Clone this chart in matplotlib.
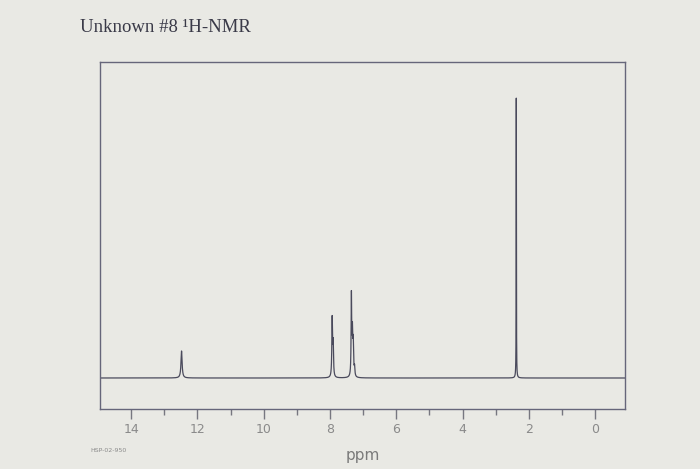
import numpy as np
import matplotlib
matplotlib.use("Agg")
import matplotlib.pyplot as plt
from matplotlib.ticker import MultipleLocator

# Peak list (ppm, relative height, half width in ppm)
peak_ppm = [12.48, 7.935, 7.905, 7.355, 7.325, 7.30, 7.26, 2.38]
peak_height = [27, 58, 32, 80, 42, 32, 9, 280]
peak_hwhm = [0.020, 0.012, 0.012, 0.010, 0.012, 0.012, 0.012, 0.004]

major_ticks = [14, 12, 10, 8, 6, 4, 2, 0]
title = "Unknown #8 \u00b9H-NMR"
xlabel = "ppm"
code_label = "HSP-02-950"

bg = "#e9e9e4"
fig = plt.figure(figsize=(7.0, 4.69), dpi=100, facecolor=bg)
ax = fig.add_axes([100/700, 1-409/469, 525/700, (409-62)/469], facecolor=bg)

x = np.linspace(15.2, -1.2, 60000)
y = np.zeros_like(x)
for p, h, w in zip(peak_ppm, peak_height, peak_hwhm):
    y += h * w**2 / ((x - p)**2 + w**2)

ax.plot(x, y, color="#4a4a5c", lw=0.9)

ax.set_xlim(14.94, -0.9)
ax.set_ylim(-31, 316)
ax.set_yticks([])
ax.xaxis.set_minor_locator(MultipleLocator(1))
ax.set_xticks(major_ticks)
ax.tick_params(axis="x", which="major", direction="out", length=7, width=1,
               color="#777780", labelcolor="#8a8a8a", labelsize=9, pad=3)
ax.tick_params(axis="x", which="minor", direction="out", length=4, width=1,
               color="#777780")
for s in ax.spines.values():
    s.set_color("#66667a")
    s.set_linewidth(1.0)

fig.text(80/700, 1-28/469, title, family="Liberation Serif", fontsize=13.5,
         color="#3a3a48", va="center", ha="left")
fig.text(363/700, 1-455/469, xlabel, fontsize=11, color="#7a7a7a",
         va="center", ha="center")
fig.text(90/700, 1-450/469, code_label, fontsize=4.5, color="#8a8a8a",
         va="center", ha="left")

fig.savefig("out.png", dpi=100, facecolor=bg)
